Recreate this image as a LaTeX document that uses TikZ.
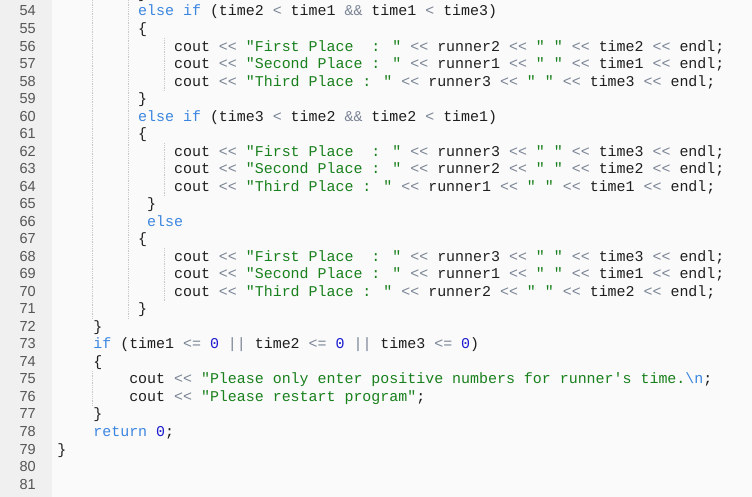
\documentclass[tikz,border=0pt]{standalone}
\usepackage{fontspec}
\setmainfont{Liberation Sans}
\newfontfamily\codefont{Liberation Mono}
\definecolor{bgc}{HTML}{FAFAFA}
\definecolor{gut}{HTML}{F0F0F0}
\definecolor{lnc}{HTML}{555555}
\definecolor{kwc}{HTML}{3B86E0}
\definecolor{opc}{HTML}{7A8494}
\definecolor{stc}{HTML}{18801C}
\definecolor{nmc}{HTML}{1A1AD0}
\definecolor{txc}{HTML}{1E1E1E}
\definecolor{guide}{HTML}{C8C8C8}
\newcommand\kw[1]{\textcolor{kwc}{#1}}
\newcommand\op[1]{\textcolor{opc}{#1}}
\newcommand\st[1]{\textcolor{stc}{#1}}
\newcommand\nm[1]{\textcolor{nmc}{#1}}
\begin{document}
\begin{tikzpicture}[x=1bp,y=-1bp,
  code/.style={anchor=base west,inner sep=0pt,font=\codefont\fontsize{14.95bp}{17bp}\selectfont,text=txc},
  lnum/.style={anchor=base east,inner sep=0pt,font=\fontsize{14.5bp}{17bp}\selectfont,text=lnc},
  guideline/.style={draw=guide,densely dotted,line width=0.8bp}]
\fill[bgc] (0,0) rectangle (752,497);
\fill[gut] (0,0) rectangle (52,497);
\useasboundingbox (0,0) rectangle (752,497);
\def\cw{8.97}
\def\lh{17.52}
\def\cx#1{57.3+#1*\cw}
\def\by#1{16+(#1-54)*\lh}
% guides
\draw[guideline] (92.7,0) -- (92.7,{\by{71}+5});
\draw[guideline] (92.7,{\by{75}-13}) -- (92.7,{\by{76}+5});
\draw[guideline] (128.6,0) -- (128.6,{\by{71}+5});
\foreach \a in {56,62,68}{
  \draw[guideline] (164.5,{\by{\a}-13}) -- (164.5,{\by{\a+2}+5});}
% line numbers
\foreach \n in {54,...,81}{
  \node[lnum] (n\n) at (36,{\by{\n}}) {\n};}
% code
\node[code] (c53) at ({\cx{9}},{\by{53}}) {\}};
\node[code] (c54) at ({\cx{9}},{\by{54}}) {\kw{else if} (time2 \op{<} time1 \op{\&\&} time1 \op{<} time3)};
\node[code] (c55) at ({\cx{9}},{\by{55}}) {\{};
\node[code] (c56) at ({\cx{13}},{\by{56}}) {cout \op{<<} \st{"First Place\ \ : "} \op{<<} runner2 \op{<<} \st{"\ "} \op{<<} time2 \op{<<} endl;};
\node[code] (c57) at ({\cx{13}},{\by{57}}) {cout \op{<<} \st{"Second Place : "} \op{<<} runner1 \op{<<} \st{"\ "} \op{<<} time1 \op{<<} endl;};
\node[code] (c58) at ({\cx{13}},{\by{58}}) {cout \op{<<} \st{"Third Place : "} \op{<<} runner3 \op{<<} \st{"\ "} \op{<<} time3 \op{<<} endl;};
\node[code] (c59) at ({\cx{9}},{\by{59}}) {\}};
\node[code] (c60) at ({\cx{9}},{\by{60}}) {\kw{else if} (time3 \op{<} time2 \op{\&\&} time2 \op{<} time1)};
\node[code] (c61) at ({\cx{9}},{\by{61}}) {\{};
\node[code] (c62) at ({\cx{13}},{\by{62}}) {cout \op{<<} \st{"First Place\ \ : "} \op{<<} runner3 \op{<<} \st{"\ "} \op{<<} time3 \op{<<} endl;};
\node[code] (c63) at ({\cx{13}},{\by{63}}) {cout \op{<<} \st{"Second Place : "} \op{<<} runner2 \op{<<} \st{"\ "} \op{<<} time2 \op{<<} endl;};
\node[code] (c64) at ({\cx{13}},{\by{64}}) {cout \op{<<} \st{"Third Place : "} \op{<<} runner1 \op{<<} \st{"\ "} \op{<<} time1 \op{<<} endl;};
\node[code] (c65) at ({\cx{10}},{\by{65}}) {\}};
\node[code] (c66) at ({\cx{10}},{\by{66}}) {\kw{else}};
\node[code] (c67) at ({\cx{9}},{\by{67}}) {\{};
\node[code] (c68) at ({\cx{13}},{\by{68}}) {cout \op{<<} \st{"First Place\ \ : "} \op{<<} runner3 \op{<<} \st{"\ "} \op{<<} time3 \op{<<} endl;};
\node[code] (c69) at ({\cx{13}},{\by{69}}) {cout \op{<<} \st{"Second Place : "} \op{<<} runner1 \op{<<} \st{"\ "} \op{<<} time1 \op{<<} endl;};
\node[code] (c70) at ({\cx{13}},{\by{70}}) {cout \op{<<} \st{"Third Place : "} \op{<<} runner2 \op{<<} \st{"\ "} \op{<<} time2 \op{<<} endl;};
\node[code] (c71) at ({\cx{9}},{\by{71}}) {\}};
\node[code] (c72) at ({\cx{4}},{\by{72}}) {\}};
\node[code] (c73) at ({\cx{4}},{\by{73}}) {\kw{if} (time1 \op{<=} \nm{0} \op{||} time2 \op{<=} \nm{0} \op{||} time3 \op{<=} \nm{0})};
\node[code] (c74) at ({\cx{4}},{\by{74}}) {\{};
\node[code] (c75) at ({\cx{8}},{\by{75}}) {cout \op{<<} \st{"Please only enter positive numbers for runner's time.\kw{\textbackslash n}};};
\node[code] (c76) at ({\cx{8}},{\by{76}}) {cout \op{<<} \st{"Please restart program"};};
\node[code] (c77) at ({\cx{4}},{\by{77}}) {\}};
\node[code] (c78) at ({\cx{4}},{\by{78}}) {\kw{return} \nm{0};};
\node[code] (c79) at ({\cx{0}},{\by{79}}) {\}};
\end{tikzpicture}
\end{document}
